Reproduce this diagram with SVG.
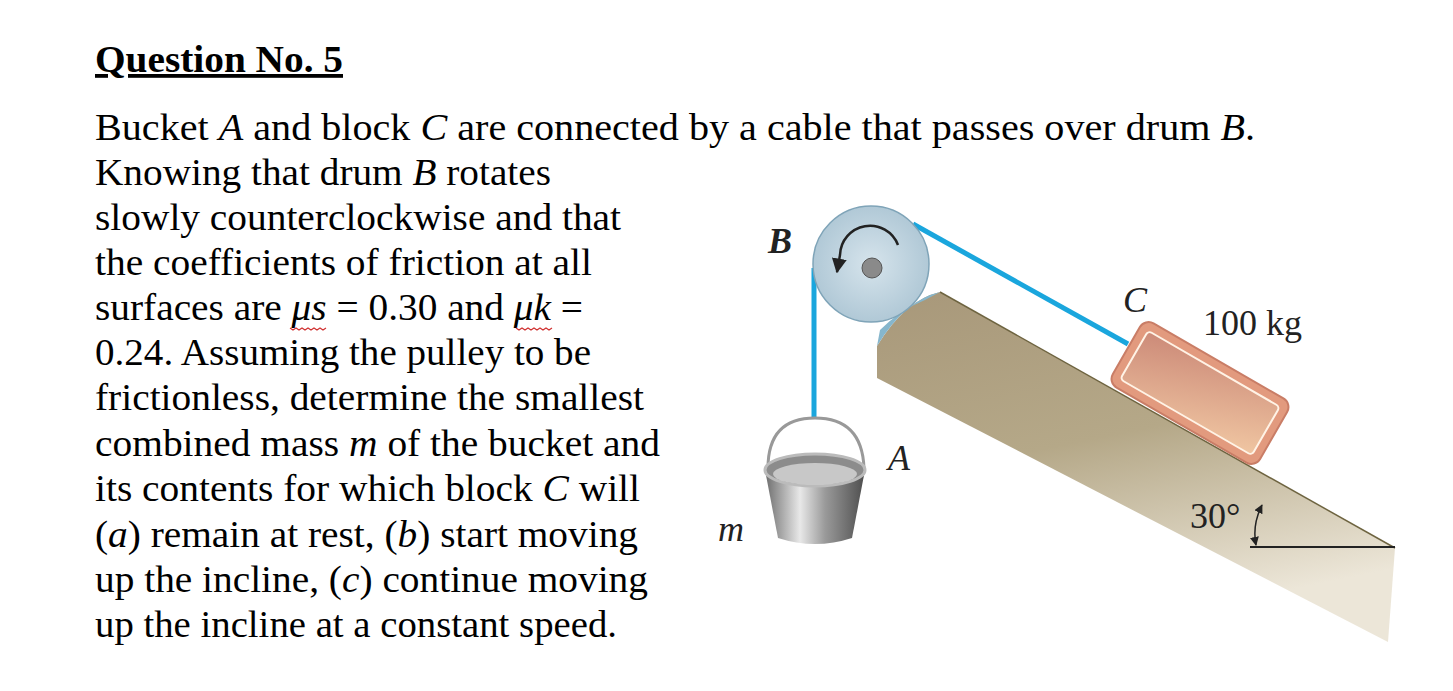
<svg xmlns="http://www.w3.org/2000/svg" width="1453" height="691" viewBox="0 0 1453 691">
<style>
.t{font-family:"Liberation Serif","Times New Roman",serif;font-size:38px;fill:#000}
.i{font-style:italic}
.lb{font-family:"Liberation Serif",serif;font-size:36px;fill:#222}
.cab{stroke:#1aa6dd;stroke-width:5;fill:none}
.sq{stroke:#d03030;stroke-width:1.2;fill:none}
</style>
<defs>
<linearGradient id="slab" x1="0" y1="0" x2="0.3" y2="1"><stop offset="0" stop-color="#a8987a"/><stop offset="0.5" stop-color="#b5a888"/><stop offset="1" stop-color="#ece6d8"/></linearGradient>
<radialGradient id="pul" cx="0.5" cy="0.5" r="0.6"><stop offset="0" stop-color="#d6e4ec"/><stop offset="1" stop-color="#a9c3d2"/></radialGradient>
<linearGradient id="blk" x1="0" y1="0" x2="1" y2="1"><stop offset="0" stop-color="#cc8a78"/><stop offset="1" stop-color="#f0c6a2"/></linearGradient>
<linearGradient id="bkt" x1="0" y1="0" x2="1" y2="0"><stop offset="0" stop-color="#6d6d6d"/><stop offset="0.35" stop-color="#e8e8e8"/><stop offset="0.6" stop-color="#9a9a9a"/><stop offset="1" stop-color="#4d4d4d"/></linearGradient>
<marker id="ah" viewBox="0 0 10 10" refX="9" refY="5" markerWidth="6" markerHeight="6" orient="auto-start-reverse"><path d="M0,0 L10,5 L0,10 z" fill="#222"/></marker>
</defs>
<g id="text">
<text class="t" x="95" y="72" font-weight="bold" text-decoration="underline" textLength="248" lengthAdjust="spacingAndGlyphs">Question No. 5</text>
<text class="t" x="95" y="140" textLength="1160" lengthAdjust="spacingAndGlyphs">Bucket <tspan class="i">A</tspan> and block <tspan class="i">C</tspan> are connected by a cable that passes over drum <tspan class="i">B</tspan>.</text>
<text class="t" x="95" y="185" textLength="456" lengthAdjust="spacingAndGlyphs">Knowing that drum <tspan class="i">B</tspan> rotates</text>
<text class="t" x="95" y="230" textLength="526" lengthAdjust="spacingAndGlyphs">slowly counterclockwise and that</text>
<text class="t" x="95" y="275" textLength="497" lengthAdjust="spacingAndGlyphs">the coefficients of friction at all</text>
<text class="t" x="95" y="320" textLength="488" lengthAdjust="spacingAndGlyphs">surfaces are <tspan class="i">μs</tspan> = 0.30 and <tspan class="i">μk</tspan> =</text>
<text class="t" x="95" y="365" textLength="496" lengthAdjust="spacingAndGlyphs">0.24. Assuming the pulley to be</text>
<text class="t" x="95" y="410" textLength="549" lengthAdjust="spacingAndGlyphs">frictionless, determine the smallest</text>
<text class="t" x="95" y="456" textLength="565" lengthAdjust="spacingAndGlyphs">combined mass <tspan class="i">m</tspan> of the bucket and</text>
<text class="t" x="95" y="501" textLength="545" lengthAdjust="spacingAndGlyphs">its contents for which block <tspan class="i">C</tspan> will</text>
<text class="t" x="95" y="547" textLength="543" lengthAdjust="spacingAndGlyphs">(<tspan class="i">a</tspan>) remain at rest, (<tspan class="i">b</tspan>) start moving</text>
<text class="t" x="95" y="592" textLength="553" lengthAdjust="spacingAndGlyphs">up the incline, (<tspan class="i">c</tspan>) continue moving</text>
<text class="t" x="95" y="637" textLength="522" lengthAdjust="spacingAndGlyphs">up the incline at a constant speed.</text>
<path class="sq" d="M290,328 l3,2 l3,-2 l3,2 l3,-2 l3,2 l3,-2 l3,2 l3,-2 l3,2 l3,-2 l3,2 l3,-2"/>
<path class="sq" d="M516,328 l3,2 l3,-2 l3,2 l3,-2 l3,2 l3,-2 l3,2 l3,-2 l3,2 l3,-2 l3,2 l3,-2"/>
</g>
<g id="incline">
<path d="M877,346 Q905,300 940,292 L1395,548 L1388,642 L877,378 Z" fill="url(#slab)"/>
<path d="M940,292 L1395,548" stroke="#6e6440" stroke-width="1.5"/>
<path d="M877,346 Q905,300 940,292 L925,300 Q900,310 880,330 Z" fill="#86b6cc"/>
<line x1="1250" y1="547" x2="1395" y2="547" stroke="#222" stroke-width="2"/>
<path d="M1262,505 Q1252,525 1256,545" fill="none" stroke="#222" stroke-width="1.5" marker-start="url(#ah)" marker-end="url(#ah)"/>
<text class="lb" x="1190" y="528" font-size="32">30°</text>
</g>
<g id="connectors">
<line class="cab" x1="814" y1="268" x2="814" y2="418"/>
<line class="cab" x1="913" y1="224" x2="1128" y2="344"/>
</g>
<g id="drumB">
<circle cx="871" cy="264" r="58" fill="url(#pul)" stroke="#7fa4b8" stroke-width="1.5"/>
<circle cx="872" cy="268" r="10" fill="#8a8a8a" stroke="#555"/>
<path d="M898,245 A30,30 0 0 0 840,255 L837,272" fill="none" stroke="#222" stroke-width="2.5" marker-end="url(#ah)"/>
<text class="lb i" x="768" y="253" font-style="italic" font-weight="bold">B</text>
</g>
<g id="blockC">
<g transform="translate(1200,393) rotate(30)">
<rect x="-85" y="-37" width="170" height="74" rx="10" fill="#e29a7e" stroke="#c97d66" stroke-width="2"/>
<rect x="-76" y="-28" width="152" height="56" rx="4" fill="url(#blk)" stroke="#fff3e6" stroke-width="2"/>
</g>
<text class="lb" x="1123" y="312" font-style="italic">C</text>
<text class="lb" x="1203" y="335">100 kg</text>
</g>
<g id="bucketA">
<path d="M768,468 Q768,418 815,418 Q862,418 864,468" fill="none" stroke="#999" stroke-width="3"/>
<path d="M765,470 L778,538 Q815,550 852,538 L865,470 Z" fill="url(#bkt)"/>
<ellipse cx="815" cy="470" rx="50" ry="16" fill="#8c8c8c" stroke="#bbb" stroke-width="3"/>
<ellipse cx="815" cy="474" rx="42" ry="11" fill="#c8c8c8"/>
<text class="lb" x="888" y="470" font-style="italic">A</text>
<text class="lb" x="718" y="541" font-style="italic">m</text>
</g>
</svg>
